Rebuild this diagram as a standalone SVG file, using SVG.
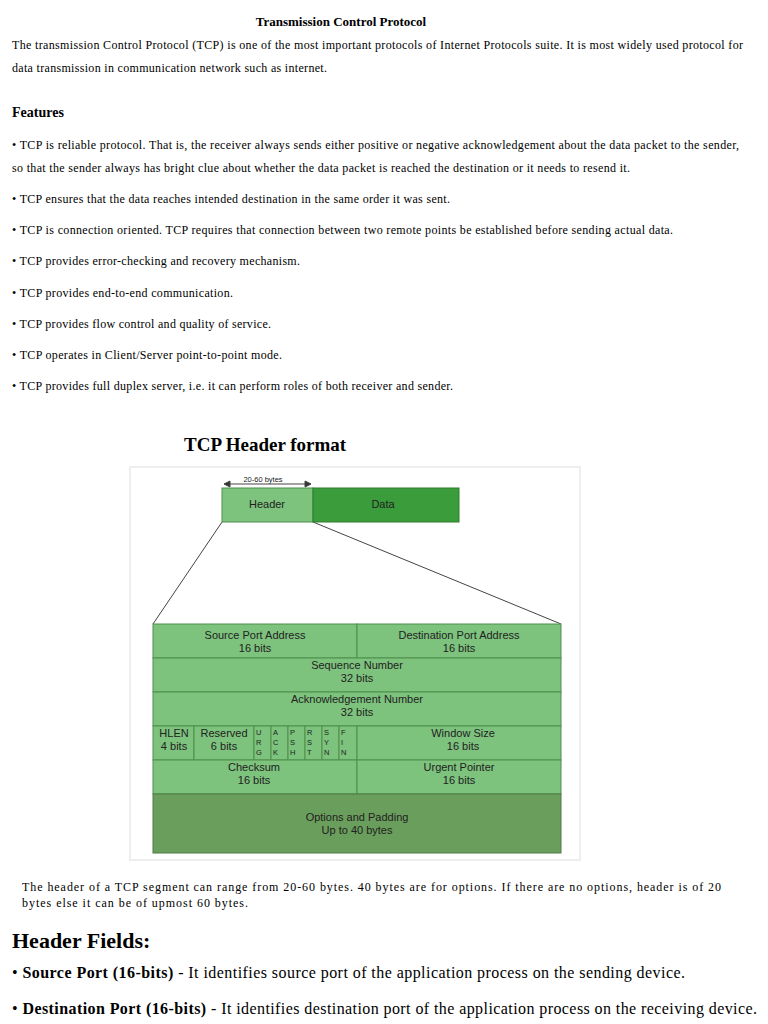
<svg xmlns="http://www.w3.org/2000/svg" width="768" height="1024" viewBox="0 0 768 1024">
<style>
.s{font-family:"Liberation Serif",serif;font-size:12px;fill:#000}
.a{font-family:"Liberation Sans",sans-serif;font-size:11px;fill:#222;text-anchor:middle}
.f{font-family:"Liberation Sans",sans-serif;font-size:7.5px;fill:#222}
.c{fill:#7dc27d;stroke:#4e8f4e;stroke-width:1}
.h{font-family:"Liberation Serif",serif;font-weight:bold;fill:#000}
.b{font-family:"Liberation Serif",serif;font-size:16px;fill:#000}
</style>
<rect width="768" height="1024" fill="#fff"/>
<text class="h" x="341" y="26" font-size="13" text-anchor="middle">Transmission  Control Protocol</text>
<text class="s" x="12" y="49" textLength="731" lengthAdjust="spacing">The transmission Control Protocol (TCP) is one of the most important protocols of Internet Protocols suite. It is most widely  used protocol for</text>
<text class="s" x="12" y="72" textLength="315" lengthAdjust="spacing">data transmission in communication network such as internet.</text>
<text class="h" x="12" y="117" font-size="14">Features</text>
<text class="s" x="12" y="149" textLength="727" lengthAdjust="spacing">• TCP is reliable protocol. That is, the receiver always sends either positive or negative acknowledgement  about the data  packet to the sender,</text>
<text class="s" x="12" y="172" textLength="618" lengthAdjust="spacing">so that the sender always  has bright clue about whether the data packet is reached the destination or it needs to resend it.</text>
<text class="s" x="12" y="203" textLength="438" lengthAdjust="spacing">• TCP ensures that the data reaches intended destination in the same order it was sent.</text>
<text class="s" x="12" y="234" textLength="661" lengthAdjust="spacing">• TCP is connection oriented. TCP requires that connection between two remote points be established before sending actual data.</text>
<text class="s" x="12" y="265" textLength="288" lengthAdjust="spacing">• TCP provides error-checking  and recovery mechanism.</text>
<text class="s" x="12" y="297" textLength="221" lengthAdjust="spacing">• TCP provides end-to-end communication.</text>
<text class="s" x="12" y="328" textLength="259" lengthAdjust="spacing">• TCP provides flow control and quality of service.</text>
<text class="s" x="12" y="359" textLength="270" lengthAdjust="spacing">• TCP operates in Client/Server point-to-point mode.</text>
<text class="s" x="12" y="390" textLength="441" lengthAdjust="spacing">• TCP provides full duplex server, i.e. it can perform roles of both receiver and sender.</text>
<text class="h" x="184" y="451" font-size="19">TCP Header format</text>
<rect x="130" y="467" width="450" height="393" fill="#fff" stroke="#eee" stroke-width="2"/>
<g id="connectors" stroke="#444" stroke-width="1" fill="none">
<line x1="224" y1="484" x2="311" y2="484"/>
<path d="M224,484 l6,-3 v6 z M311,484 l-6,-3 v6 z" fill="#333"/>
<line x1="222" y1="522" x2="153" y2="624"/>
<line x1="313" y1="522" x2="561" y2="624"/>
</g>
<text x="263" y="482" class="f" font-size="10" text-anchor="middle">20-60 bytes</text>
<g id="header"><rect class="c" x="222" y="488" width="91" height="34"/><text class="a" x="267" y="508">Header</text></g>
<g id="data"><rect x="313" y="488" width="146" height="34" fill="#3a9c3a" stroke="#2e7d2e"/><text class="a" x="383" y="508">Data</text></g>
<g id="table">
<rect class="c" x="153" y="624" width="204" height="34"/><text class="a" x="255" y="639">Source Port Address</text><text class="a" x="255" y="652">16 bits</text>
<rect class="c" x="357" y="624" width="204" height="34"/><text class="a" x="459" y="639">Destination Port Address</text><text class="a" x="459" y="652">16 bits</text>
<rect class="c" x="153" y="658" width="408" height="34"/><text class="a" x="357" y="669">Sequence Number</text><text class="a" x="357" y="682">32 bits</text>
<rect class="c" x="153" y="692" width="408" height="34"/><text class="a" x="357" y="703">Acknowledgement Number</text><text class="a" x="357" y="716">32 bits</text>
<rect class="c" x="153" y="726" width="41" height="34"/><text class="a" x="174" y="737">HLEN</text><text class="a" x="174" y="750">4 bits</text>
<rect class="c" x="194" y="726" width="60" height="34"/><text class="a" x="224" y="737">Reserved</text><text class="a" x="224" y="750">6 bits</text>
<rect class="c" x="254" y="726" width="17" height="34"/><rect class="c" x="271" y="726" width="17" height="34"/><rect class="c" x="288" y="726" width="17" height="34"/><rect class="c" x="305" y="726" width="17" height="34"/><rect class="c" x="322" y="726" width="17" height="34"/><rect class="c" x="339" y="726" width="18" height="34"/>
<text class="f" x="256" y="735">U</text><text class="f" x="256" y="745">R</text><text class="f" x="256" y="755">G</text>
<text class="f" x="273" y="735">A</text><text class="f" x="273" y="745">C</text><text class="f" x="273" y="755">K</text>
<text class="f" x="290" y="735">P</text><text class="f" x="290" y="745">S</text><text class="f" x="290" y="755">H</text>
<text class="f" x="307" y="735">R</text><text class="f" x="307" y="745">S</text><text class="f" x="307" y="755">T</text>
<text class="f" x="324" y="735">S</text><text class="f" x="324" y="745">Y</text><text class="f" x="324" y="755">N</text>
<text class="f" x="341" y="735">F</text><text class="f" x="341" y="745">I</text><text class="f" x="341" y="755">N</text>
<rect class="c" x="357" y="726" width="204" height="34"/><text class="a" x="463" y="737">Window Size</text><text class="a" x="463" y="750">16 bits</text>
<rect class="c" x="153" y="760" width="204" height="34"/><text class="a" x="254" y="771">Checksum</text><text class="a" x="254" y="784">16 bits</text>
<rect class="c" x="357" y="760" width="204" height="34"/><text class="a" x="459" y="771">Urgent Pointer</text><text class="a" x="459" y="784">16 bits</text>
<rect x="153" y="794" width="408" height="59" fill="#6a9e5c" stroke="#4e7d45"/><text class="a" x="357" y="821">Options and Padding</text><text class="a" x="357" y="834">Up to 40 bytes</text>
</g>
<text class="s" x="22" y="891" font-size="13" textLength="699" lengthAdjust="spacing">The header of a TCP segment can range from 20-60 bytes. 40 bytes are for options. If there are no options, header is of 20</text>
<text class="s" x="22" y="907" font-size="13" textLength="226" lengthAdjust="spacing">bytes else it can be of upmost 60 bytes.</text>
<text class="h" x="12" y="948" font-size="22">Header Fields:</text>
<text class="b" x="12" y="978" textLength="673" lengthAdjust="spacing">•   <tspan font-weight="bold">Source Port (16-bits)</tspan>  - It identifies source port of the application process on the sending device.</text>
<text class="b" x="12" y="1014" textLength="745" lengthAdjust="spacing">•  <tspan font-weight="bold">Destination Port (16-bits)</tspan> - It identifies destination port of the application process on the receiving device.</text>
</svg>
